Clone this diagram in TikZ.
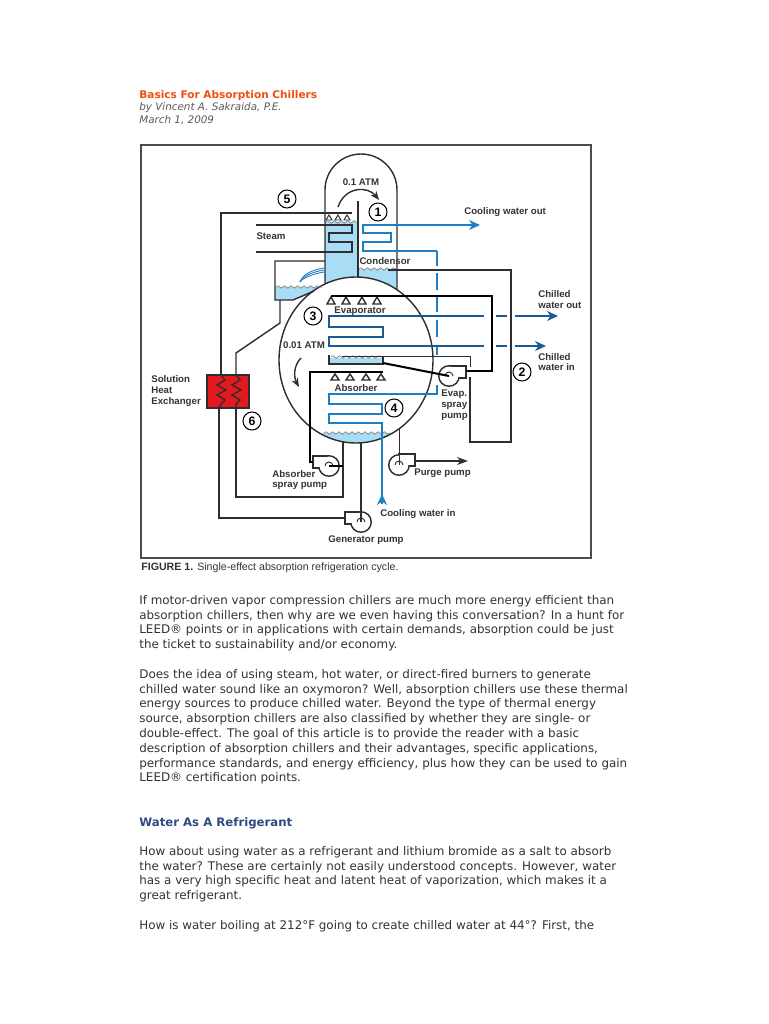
\documentclass[tikz,border=0pt]{standalone}
\usepackage{fontspec}
\setmainfont{DejaVu Sans}
\newfontfamily\labelfont{Liberation Sans}
\usetikzlibrary{arrows.meta,decorations.pathmorphing}
\definecolor{liquid}{HTML}{A9DDF5}
\definecolor{coolblue}{HTML}{1F7FC4}
\definecolor{chillblue}{HTML}{1B5A94}
\definecolor{pipegray}{HTML}{2E2E2E}
\definecolor{hxred}{HTML}{E3191F}
\definecolor{headblue}{HTML}{2F4A80}
\definecolor{titleorange}{HTML}{F04E0F}
\begin{document}
\begin{tikzpicture}[x=0.02cm, y=-0.02cm,
 body/.style={anchor=north west, align=left, inner sep=0pt, text=black!80, font=\fontsize{6.78}{8.42}\selectfont},
 lab/.style={inner sep=0pt, align=left, text=black!80, font=\labelfont\bfseries\fontsize{5.5}{6.1}\selectfont},
 num/.style={draw, circle, line width=0.6pt, minimum size=0.36cm, inner sep=0pt, font=\labelfont\bfseries\fontsize{7}{8}\selectfont},
 pipe/.style={pipegray, line width=0.8pt},
 thinpipe/.style={pipegray, line width=0.55pt},
 thickpipe/.style={black, line width=1.15pt},
 cool/.style={coolblue, line width=0.75pt},
 chill/.style={chillblue, line width=0.85pt},
 coolarr/.style={cool, -{Stealth[length=2.2mm, width=2mm]}},
 chillarr/.style={chill, -{Stealth[length=2.2mm, width=2mm]}},
 wave/.style={gray, line width=0.4pt, decorate, decoration={snake, amplitude=0.25mm, segment length=1.3mm}},
 pumpbody/.style={draw, circle, pipe, fill=white, minimum size=0.41cm, inner sep=0pt}]
\useasboundingbox (0,0) rectangle (768,1024);

% page text above the figure
\node[anchor=base west, inner sep=0pt, text=titleorange, font=\fontsize{6}{8}\selectfont\bfseries] (title) at (139,98.5) {Basics For Absorption Chillers};
\node[anchor=base west, inner sep=0pt, text=black!65, font=\fontsize{5.9}{7}\selectfont\itshape] (byline) at (139,111) {by Vincent A. Sakraida, P.E.};
\node[anchor=base west, inner sep=0pt, text=black!65, font=\fontsize{5.9}{7}\selectfont\itshape] (date) at (139,124) {March 1, 2009};

% frame
\draw[black!70, line width=1pt] (141,145) rectangle (591,558);

% liquid, then the lower shell over it
\fill[liquid] (325,222) rectangle (358,285);
\fill[liquid] (358,269) rectangle (397,290);
\fill[liquid] (275,287) -- (322,287) -- (322,290) -- (293,300) -- (275,300) -- cycle;
\fill[white] (356,360) ellipse [x radius=77, y radius=83];
\begin{scope}
\clip (356,360) ellipse [x radius=77, y radius=83];
\fill[liquid] (279,433) rectangle (433,445);
\end{scope}
\fill[liquid] (329,358) rectangle (383,364);

% shells
\draw[pipe] (325,283) -- (325,190) arc [start angle=180, end angle=0, x radius=36, y radius=-36] -- (397,290);
\draw[pipe] (356,360) ellipse [x radius=77, y radius=83];
\draw[pipe] (358,201) -- (358,277);
\draw[pipe] (325,261) -- (275,261) -- (275,300) -- (293,300) -- (314,291);

% surfaces
\draw[wave] (276,287) -- (322,287);
\draw[wave] (326,222) -- (357,222);
\draw[wave] (359,269) -- (396,269);
\draw[wave] (331,357) -- (382,357);
\draw[wave] (324,433) -- (390,433);

% splash over the weir
\foreach \bend in {0,2,4}
 \draw[coolblue, line width=0.5pt] (324,268+\bend) .. controls (312,270+\bend) and (303,274+\bend) .. (300,282);

% spray heads
\foreach \headx in {329,338,347}
 \draw[thinpipe] (\headx-3,220) -- (\headx,215) -- (\headx+3,220) -- cycle;
\foreach \headx in {331,346,362,377}
 \draw[pipe] (\headx-4,304) -- (\headx,297) -- (\headx+4,304) -- cycle;
\foreach \headx in {335,350,366,381}
 \draw[pipe] (\headx-4,380) -- (\headx,374) -- (\headx+4,380) -- cycle;

% heat exchanger and pumps
\node[draw, pipe, fill=hxred, minimum width=0.84cm, minimum height=0.66cm, inner sep=0pt] (hx) at (228,391.5) {};
\coordinate (evapout) at (466,371);
\coordinate (absout) at (313,462);
\coordinate (genout) at (345,518);
\coordinate (purgeout) at (415,461);
\draw[pipe, fill=white] (449,366) -- (466,366) -- (466,378) -- (449,378) -- cycle;
\draw[pipe, fill=white] (313,456) -- (329,456) -- (329,468) -- (313,468) -- cycle;
\draw[pipe, fill=white] (345,512) -- (361,512) -- (361,524) -- (345,524) -- cycle;
\draw[pipe, fill=white] (399,454) -- (415,454) -- (415,466) -- (399,466) -- cycle;
\node[pumpbody] (evappump) at (449,376) {};
\node[pumpbody] (abspump) at (329,466) {};
\node[pumpbody] (genpump) at (361,522) {};
\node[pumpbody] (purgepump) at (399,465) {};
\fill[white] (450,367) rectangle (464,377);
\fill[white] (314,457) rectangle (328,467);
\fill[white] (346,513) rectangle (360,523);
\fill[white] (400,455) rectangle (414,465);
\foreach \pumpname in {evappump,abspump,genpump,purgepump}
 \draw[thinpipe] ([xshift=-0.08cm]\pumpname.center) arc [start angle=180, end angle=360, radius=4];

% solution loop
\draw[pipe] (352,213) -- (221,213) -- (221,375);
\draw[pipe] (280,300) -- (280,323) -- (236,353) -- (236,375);
\draw[pipe] (221,375) -- ++(4,5) -- ++(-8,5) -- ++(9,5) -- ++(-9,5) -- ++(8,5) -- ++(-4,4) -- (219,408);
\draw[pipe] (236,375) -- ++(4,5) -- ++(-8,5) -- ++(9,5) -- ++(-9,5) -- ++(8,5) -- ++(-4,4) -- (236,408);
\draw[pipe] (236,408) -- (236,497) -- (343,497) -- (343,441);
\draw[thickpipe] (abspump.center) -- (343,466);
\draw[pipe] (219,408) -- (219,518) -- (genout);
\draw[pipe] (genpump.center) -- (361,443);
\draw[thickpipe] (383,372) -- (310,372) -- (310,462) -- (absout);
\draw[thinpipe] (purgepump.center) -- (399,429);
\draw[pipe, -{Stealth[length=2.2mm, width=1.6mm]}] (purgeout) -- (468,461);

% steam
\draw[pipe] (256,225) -- (352,225) -- (352,233) -- (329,233) -- (329,242) -- (352,242) -- (352,252) -- (256,252);

% refrigerant
\draw[pipe] (329,355) -- (329,364) -- (383,364) -- (383,357);
\draw[thinpipe] (342,356) -- (470,356) -- (470,367);
\draw[thickpipe] (383,363) -- (evappump.center);
\draw[thickpipe] (331,296) -- (492,296) -- (492,371) -- (evapout);
\draw[pipe] (388,270) -- (511,270) -- (511,442) -- (470,442) -- (470,377);

% cooling water
\draw[coolarr] (437,251) -- (363,251) -- (363,242) -- (391,242) -- (391,233) -- (363,233) -- (363,225) -- (480,225);
\draw[cool] (437,251) -- (437,266);
\draw[cool] (437,273) -- (437,290);
\draw[cool] (437,297) -- (437,312);
\draw[cool] (437,320) -- (437,337);
\draw[cool] (437,345) -- (437,355);
\draw[cool] (437,385) -- (437,394) -- (329,394) -- (329,404) -- (382,404) -- (382,414) -- (329,414) -- (329,423) -- (382,423) -- (382,498);
\draw[coolarr] (382,504) -- (382,494);

% chilled water
\draw[chill] (484,316) -- (329,316) -- (329,327) -- (383,327) -- (383,337) -- (329,337) -- (329,346) -- (484,346);
\draw[chill] (496,316) -- (507,316);
\draw[chill] (496,346) -- (507,346);
\draw[chillarr] (515,316) -- (558,316);
\draw[chillarr] (515,346) -- (546,346);

% vapor arrows
\draw[pipe, -{Stealth[length=1.8mm, width=1.4mm]}] (338,207) .. controls (345,186) and (368,186) .. (379,200);
\draw[pipe, -{Stealth[length=1.8mm, width=1.4mm]}] (301,358) .. controls (293,366) and (294,378) .. (299,387);

% numbers
\node[num, fill=white] (n1) at (378,212) {1};
\node[num, fill=white] (n2) at (522,372) {2};
\node[num, fill=white] (n3) at (313,316) {3};
\node[num, fill=white] (n4) at (394,408) {4};
\node[num, fill=white] (n5) at (287,199) {5};
\node[num, fill=white] (n6) at (252,421) {6};

% labels
\node[lab] (atmtop) at (361,182) {0.1 ATM};
\node[lab] (atmlow) at (304,345) {0.01 ATM};
\node[lab] (steam) at (271,236) {Steam};
\node[lab] (condensor) at (385,261) {Condensor};
\node[lab] (evaporator) at (360,311) {Evaporator};
\node[lab] (absorber) at (356,388) {Absorber};
\node[lab, anchor=west] (coolout) at (464,212) {Cooling water out};
\node[lab, anchor=west] (coolin) at (380,514) {Cooling water in};
\node[lab, anchor=west] (chillout) at (538,299.5) {Chilled\\water out};
\node[lab, anchor=west] (chillin) at (538,362) {Chilled\\water in};
\node[lab, anchor=west] (hxlabel) at (151,391) {Solution\\Heat\\Exchanger};
\node[lab, anchor=west] (evaplabel) at (441,405) {Evap.\\spray\\pump};
\node[lab, anchor=west] (abslabel) at (272,480) {Absorber\\spray pump};
\node[lab, anchor=west] (purgelabel) at (414,473.5) {Purge pump};
\node[lab, anchor=center] (genlabel) at (366,540) {Generator pump};
\node[anchor=west, inner sep=0pt, text=black!80, font=\labelfont\fontsize{6.05}{7}\selectfont] (caption) at (141,567.5) {\textbf{FIGURE 1.} Single-effect absorption refrigeration cycle.};

% page text below the figure
\node[body] (para1) at (139,595) {If motor-driven vapor compression chillers are much more energy efficient than\\absorption chillers, then why are we even having this conversation? In a hunt for\\LEED® points or in applications with certain demands, absorption could be just\\the ticket to sustainability and/or economy.};
\node[body] (para2) at (139,669) {Does the idea of using steam, hot water, or direct-fired burners to generate\\chilled water sound like an oxymoron? Well, absorption chillers use these thermal\\energy sources to produce chilled water. Beyond the type of thermal energy\\source, absorption chillers are also classified by whether they are single- or\\double-effect. The goal of this article is to provide the reader with a basic\\description of absorption chillers and their advantages, specific applications,\\performance standards, and energy efficiency, plus how they can be used to gain\\LEED® certification points.};
\node[anchor=base west, inner sep=0pt, text=headblue, font=\fontsize{6.67}{9}\selectfont\bfseries] (heading) at (139,826) {Water As A Refrigerant};
\node[body] (para3) at (139,846) {How about using water as a refrigerant and lithium bromide as a salt to absorb\\the water? These are certainly not easily understood concepts. However, water\\has a very high specific heat and latent heat of vaporization, which makes it a\\great refrigerant.};
\node[body] (para4) at (139,920) {How is water boiling at 212°F going to create chilled water at 44°? First, the};
\end{tikzpicture}
\end{document}
